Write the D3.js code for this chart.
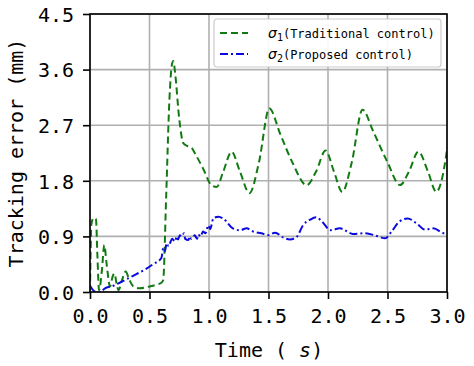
<!DOCTYPE html>
<html>
<head>
<meta charset="utf-8">
<script src="https://cdn.jsdelivr.net/npm/d3@7"></script>
<style>
  body { margin: 0; background: #fff; }
  svg { display: block; }
  .tick text { font-family: "DejaVu Sans Mono", monospace; font-size: 20px; fill: #000; }
</style>
</head>
<body>
<svg id="chart" width="474" height="366"></svg>
<script>
// σ1 - traditional control (green dashed)
var t1 = [0, 0.012, 0.03, 0.05, 0.062, 0.076, 0.1, 0.12, 0.14, 0.168, 0.19, 0.205, 0.225, 0.24, 0.27, 0.3, 0.33, 0.365, 0.42, 0.5, 0.56, 0.6, 0.615,
          0.64, 0.667, 0.69, 0.70, 0.715, 0.75, 0.784, 0.82, 0.855, 0.88, 0.95, 1.02, 1.065, 1.12, 1.19, 1.26, 1.34, 1.42, 1.507, 1.6, 1.7, 1.82,
          1.9, 1.98, 2.05, 2.12, 2.2, 2.29, 2.38, 2.5, 2.605, 2.68, 2.76, 2.84, 2.91, 2.96, 3.0];
var v1 = [0.0, 1.1, 1.2, 1.18, 0.6, 0.03, 0.35, 0.76, 0.45, 0.09, 0.25, 0.3, 0.12, 0.03, 0.2, 0.33, 0.2, 0.09, 0.06, 0.09, 0.12, 0.15, 0.19,
          1.54, 3.1, 3.7, 3.74, 3.55, 2.8, 2.41, 2.36, 2.33, 2.25, 2.0, 1.73, 1.70, 1.95, 2.27, 1.95, 1.6, 2.1, 2.97, 2.55, 2.1, 1.73,
          1.95, 2.29, 1.95, 1.62, 2.1, 2.95, 2.6, 2.1, 1.73, 1.95, 2.27, 1.95, 1.62, 1.85, 2.3];

// σ2 - proposed control (blue dash-dot)
var t2 = [0, 0.04, 0.084, 0.126, 0.18, 0.25, 0.32, 0.39, 0.46, 0.53, 0.6, 0.616, 0.63, 0.644, 0.66, 0.67, 0.69, 0.714, 0.73, 0.74, 0.755, 0.77, 0.79, 0.8, 0.826, 0.84, 0.85, 0.88,
          0.9, 0.91, 0.93, 0.95, 0.97, 0.995, 1.01, 1.036, 1.078, 1.12, 1.2, 1.26, 1.317, 1.37, 1.44, 1.5, 1.555, 1.625, 1.68, 1.74, 1.79, 1.85, 1.9,
          1.95, 2.02, 2.1, 2.21, 2.3, 2.35, 2.42, 2.48, 2.535, 2.6, 2.67, 2.745, 2.815, 2.885, 2.98, 3.0];
var v2 = [0.1, 0.01, 0.0, 0.06, 0.09, 0.15, 0.22, 0.29, 0.36, 0.45, 0.55, 0.71, 0.66, 0.79, 0.74, 0.78, 0.86, 0.82, 0.9, 0.85, 0.92, 0.9, 0.95, 0.86, 0.84, 0.9, 0.86, 0.92,
          0.86, 0.93, 0.9, 0.98, 0.95, 1.08, 1.02, 1.19, 1.22, 1.19, 1.03, 1.0, 1.03, 0.98, 0.95, 0.92, 0.96, 0.88, 0.85, 0.9, 1.08, 1.17, 1.21,
          1.14, 1.0, 1.03, 0.94, 0.95, 0.94, 0.9, 0.87, 0.98, 1.14, 1.19, 1.11, 1.01, 1.03, 0.95, 0.96];

var xTicks = [0, 0.5, 1.0, 1.5, 2.0, 2.5, 3.0];
var yTicks = [0, 0.9, 1.8, 2.7, 3.6, 4.5];
var seriesNames = ["(Traditional control)", "(Proposed control)"];

var svg = d3.select("#chart");
var margin = {left: 90, right: 27, top: 14, bottom: 74};
var W = 474 - margin.left - margin.right;
var H = 366 - margin.top - margin.bottom;

var x = d3.scaleLinear().domain([0, 3]).range([0, W]);
var y = d3.scaleLinear().domain([0, 4.5]).range([H, 0]);

var g = svg.append("g").attr("transform", "translate(" + margin.left + "," + margin.top + ")");

g.append("defs").append("clipPath").attr("id", "clip")
    .append("rect").attr("width", W).attr("height", H);

// grid
g.append("g").selectAll("line").data(xTicks).join("line")
    .attr("x1", d => x(d)).attr("x2", d => x(d)).attr("y1", 0).attr("y2", H)
    .attr("stroke", "#b0b0b0").attr("stroke-width", 1.6);
g.append("g").selectAll("line").data(yTicks).join("line")
    .attr("y1", d => y(d)).attr("y2", d => y(d)).attr("x1", 0).attr("x2", W)
    .attr("stroke", "#b0b0b0").attr("stroke-width", 1.6);

// curves
var line = d3.line().x(d => x(d[0])).y(d => y(d[1])).curve(d3.curveMonotoneX);
var plot = g.append("g").attr("clip-path", "url(#clip)");
plot.append("path").datum(d3.zip(t1, v1)).attr("d", line)
    .attr("fill", "none").attr("stroke", "#127a12").attr("stroke-width", 2)
    .attr("stroke-dasharray", "7,4");
plot.append("path").datum(d3.zip(t2, v2)).attr("d", line)
    .attr("fill", "none").attr("stroke", "#0a0ae0").attr("stroke-width", 2)
    .attr("stroke-dasharray", "8,3,2,3");

// frame
g.append("rect").attr("width", W).attr("height", H)
    .attr("fill", "none").attr("stroke", "#000").attr("stroke-width", 1.6);

// axes
var xAxis = g.append("g").attr("transform", "translate(0," + H + ")")
    .call(d3.axisBottom(x).tickValues(xTicks).tickFormat(d3.format(".1f")).tickSize(7).tickPadding(10));
var yAxis = g.append("g")
    .call(d3.axisLeft(y).tickValues(yTicks).tickFormat(d3.format(".1f")).tickSize(7).tickPadding(9));
[xAxis, yAxis].forEach(function (a) {
    a.select(".domain").remove();
    a.selectAll(".tick line").attr("stroke", "#000").attr("stroke-width", 1.6);
});
yAxis.selectAll(".tick text").attr("dy", "0.36em");

// axis titles
var xt = svg.append("text").attr("x", 269).attr("y", 357).attr("text-anchor", "middle")
    .style("font-family", "DejaVu Sans Mono, monospace").style("font-size", "20px");
xt.append("tspan").text("Time ( ");
xt.append("tspan").style("font-style", "italic").text("s");
xt.append("tspan").text(")");

svg.append("text").attr("transform", "translate(23," + (margin.top + H / 2) + ") rotate(-90)")
    .attr("text-anchor", "middle")
    .style("font-family", "DejaVu Sans Mono, monospace").style("font-size", "20px")
    .text("Tracking error (mm)");

// legend
var lg = g.append("g").attr("transform", "translate(" + (214 - margin.left) + "," + (19 - margin.top) + ")");
lg.append("rect").attr("width", 227).attr("height", 48).attr("rx", 3)
    .attr("fill", "#fff").attr("fill-opacity", 0.92).attr("stroke", "#cccccc").attr("stroke-width", 1.2);
var legendItems = [
    {sub: "1", name: seriesNames[0], color: "#127a12", dash: "7,4"},
    {sub: "2", name: seriesNames[1], color: "#0a0ae0", dash: "8,3,2,3"}
];
legendItems.forEach(function (d, i) {
    var yy = 14 + i * 21;
    lg.append("line").attr("x1", 6).attr("x2", 34).attr("y1", yy).attr("y2", yy)
        .attr("stroke", d.color).attr("stroke-width", 2).attr("stroke-dasharray", d.dash);
    var tx = lg.append("text").attr("x", 54).attr("y", yy + 5)
        .style("font-family", "DejaVu Sans Mono, monospace").style("font-size", "12px");
    tx.append("tspan").style("font-style", "italic").style("font-family", "DejaVu Sans, sans-serif").style("font-size", "14px").text("σ");
    tx.append("tspan").attr("dy", 3).style("font-size", "10px").text(d.sub);
    tx.append("tspan").attr("dy", -3).text(d.name);
});
</script>
</body>
</html>
